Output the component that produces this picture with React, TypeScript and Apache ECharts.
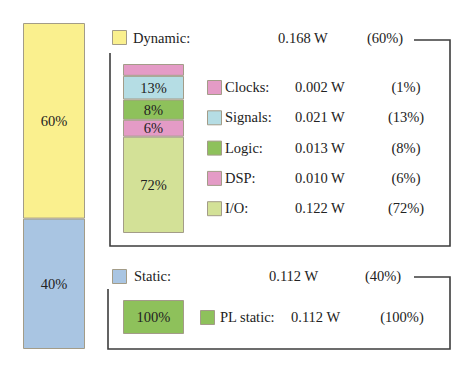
import React, { useEffect, useRef } from "react";
import * as echarts from "echarts";

// ---- data ----
const totalCategories = ["Dynamic", "Static"];
const totalWatts = [0.168, 0.112];
const totalPercents = [60, 40];

const dynamicItems = ["Clocks", "Signals", "Logic", "DSP", "I/O"];
const dynamicWatts = [0.002, 0.021, 0.013, 0.01, 0.122];
const dynamicPercents = [1, 13, 8, 6, 72];
// relative block sizes as drawn in the picture (the breakdown bar is not to scale)
const dynamicDrawnShares = [7, 14, 12, 10, 57];
const dynamicLabelShown = [false, true, true, true, true];

const staticItems = ["PL static"];
const staticWatts = [0.112];
const staticPercents = [100];

// ---- styles ----
const totalColors = ["#FAF08E", "#A9C5E2"];
const dynamicColors = ["#E49BC6", "#B5DDE4", "#8EC15B", "#E49BC6", "#D3E197"];
const staticColors = ["#8EC15B"];
const BORDER = "#A39C88";
const FONT = "Liberation Serif";
const TXT = "#222";
const LINE = "#3d3d3d";

const fmtW = (v: number) => v.toFixed(3) + " W";

function text(x: number, y: number, s: string, align = "left", size = 14.5) {
  return {
    type: "text",
    x,
    y,
    silent: true,
    style: {
      text: s,
      fill: TXT,
      fontSize: size,
      fontFamily: FONT,
      align,
      verticalAlign: "middle",
      textAlign: align,
      textVerticalAlign: "middle",
    },
  };
}

function box(x: number, y: number, color: string) {
  return {
    type: "rect",
    silent: true,
    shape: { x: x + 0.5, y: y + 0.5, width: 14, height: 14 },
    style: { fill: color, stroke: BORDER, lineWidth: 1 },
  };
}

export default function App() {
  const ref = useRef<HTMLDivElement>(null);
  useEffect(() => {
    if (!ref.current) return;
    const chart = echarts.init(ref.current, null, { renderer: "svg" });

    const grids = [
      { left: 23, top: 23, width: 62, height: 326 },
      { left: 123, top: 64, width: 61, height: 169 },
      { left: 123, top: 300, width: 61, height: 34 },
    ];
    const xAxes = grids.map((_, i) => ({
      type: "category",
      gridIndex: i,
      data: ["a"],
      show: false,
    }));
    const yAxes = grids.map((_, i) => ({
      type: "value",
      gridIndex: i,
      min: 0,
      max: 100,
      show: false,
    }));

    const labelStyle = {
      show: true,
      position: "inside",
      color: TXT,
      fontSize: 14.5,
      fontFamily: FONT,
    };

    const series: any[] = [];
    // total bar: Static at bottom, Dynamic on top
    [1, 0].forEach((i) => {
      series.push({
        type: "bar",
        name: totalCategories[i],
        xAxisIndex: 0,
        yAxisIndex: 0,
        stack: "total",
        barWidth: "100%",
        data: [totalPercents[i]],
        itemStyle: { color: totalColors[i], borderColor: BORDER, borderWidth: 1 },
        label: { ...labelStyle, formatter: () => totalPercents[i] + "%" },
      });
    });
    // dynamic breakdown: first item at top
    for (let i = dynamicItems.length - 1; i >= 0; i--) {
      series.push({
        type: "bar",
        name: dynamicItems[i],
        xAxisIndex: 1,
        yAxisIndex: 1,
        stack: "dyn",
        barWidth: "100%",
        data: [dynamicDrawnShares[i]],
        itemStyle: { color: dynamicColors[i], borderColor: BORDER, borderWidth: 1 },
        label: {
          ...labelStyle,
          show: dynamicLabelShown[i],
          formatter: () => dynamicPercents[i] + "%",
        },
      });
    }
    staticItems.forEach((name, i) => {
      series.push({
        type: "bar",
        name,
        xAxisIndex: 2,
        yAxisIndex: 2,
        stack: "st",
        barWidth: "100%",
        data: [staticPercents[i]],
        itemStyle: { color: staticColors[i], borderColor: BORDER, borderWidth: 1 },
        label: { ...labelStyle, formatter: () => staticPercents[i] + "%" },
      });
    });

    const graphic: any[] = [];
    // Dynamic header
    graphic.push(box(112, 30, totalColors[0]));
    graphic.push(text(133, 38, totalCategories[0] + ":"));
    graphic.push(text(278, 38, fmtW(totalWatts[0])));
    graphic.push(text(385, 38, "(" + totalPercents[0] + "%)", "center"));
    graphic.push({
      type: "polyline",
      silent: true,
      shape: { points: [[414, 40], [450, 40], [450, 246], [110, 246], [110, 53]] },
      style: { stroke: LINE, lineWidth: 1.6, fill: null },
    });
    dynamicItems.forEach((name, i) => {
      const cy = 87 + i * 30.3;
      graphic.push(box(207, cy - 7, dynamicColors[i]));
      graphic.push(text(225, cy, name + ":"));
      graphic.push(text(295, cy, fmtW(dynamicWatts[i])));
      graphic.push(text(406, cy, "(" + dynamicPercents[i] + "%)", "center"));
    });
    // Static header
    graphic.push(box(112, 269, totalColors[1]));
    graphic.push(text(134, 276, totalCategories[1] + ":"));
    graphic.push(text(269, 276, fmtW(totalWatts[1])));
    graphic.push(text(383, 276, "(" + totalPercents[1] + "%)", "center"));
    graphic.push({
      type: "polyline",
      silent: true,
      shape: { points: [[414, 277], [450, 277], [450, 349], [108, 349], [108, 289]] },
      style: { stroke: LINE, lineWidth: 1.6, fill: null },
    });
    staticItems.forEach((name, i) => {
      const cy = 317;
      graphic.push(box(200, cy - 7, staticColors[i]));
      graphic.push(text(220, cy, name + ":"));
      graphic.push(text(291, cy, fmtW(staticWatts[i])));
      graphic.push(text(402, cy, "(" + staticPercents[i] + "%)", "center"));
    });

    chart.setOption({
      animation: false,
      backgroundColor: "#ffffff",
      textStyle: { fontFamily: FONT },
      grid: grids.map((g) => ({ ...g, containLabel: false })),
      xAxis: xAxes,
      yAxis: yAxes,
      series,
      graphic,
    } as any);
    return () => chart.dispose();
  }, []);
  return (
    <div
      ref={ref}
      style={{ position: "fixed", left: 0, top: 0, width: 474, height: 372 }}
    />
  );
}
